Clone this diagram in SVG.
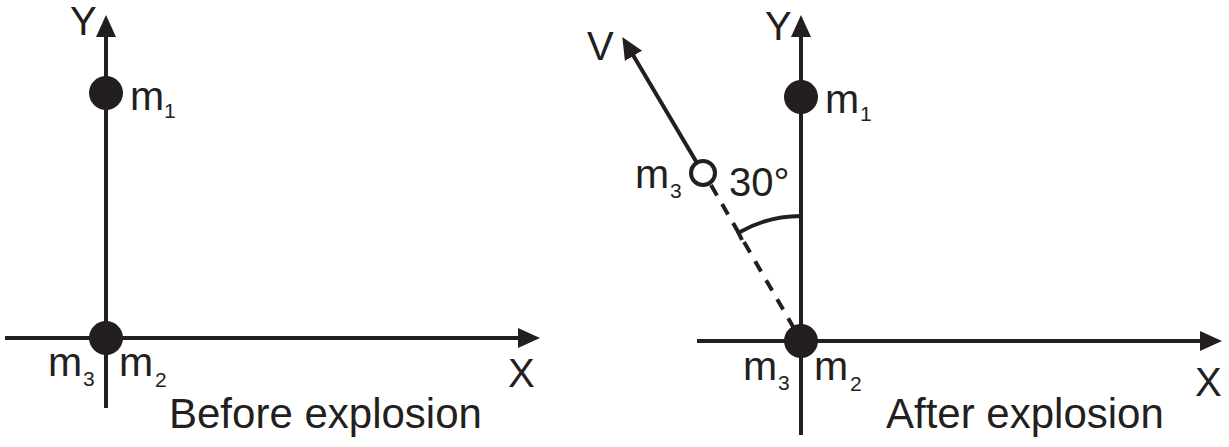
<svg xmlns="http://www.w3.org/2000/svg" width="1229" height="447" viewBox="0 0 1229 447">
<defs>
<marker id="arrow" markerUnits="userSpaceOnUse" markerWidth="24" markerHeight="22" viewBox="0 0 24 22" refX="1" refY="10" orient="auto">
<path d="M0,0 L22,10 L0,20 z" fill="#231f20"/>
</marker>
</defs>
<style>
.ax{stroke:#231f20;stroke-width:4;fill:none}
.dot{fill:#231f20}
.t{font-family:"Liberation Sans",Arial,sans-serif;fill:#231f20}
.big{font-size:40px}
.m{font-size:41px}
.sub{font-size:21px}
.cap{font-size:42px}
</style>
<rect width="1229" height="447" fill="#ffffff"/>
<g id="connectors">
<line class="ax" x1="106" y1="408" x2="106" y2="36" marker-end="url(#arrow)"/>
<line class="ax" x1="5" y1="338" x2="519" y2="338" marker-end="url(#arrow)"/>
<line class="ax" x1="801" y1="435" x2="801" y2="36" marker-end="url(#arrow)"/>
<line class="ax" x1="697" y1="341" x2="1201" y2="341" marker-end="url(#arrow)"/>
<line class="ax" x1="697" y1="163" x2="633" y2="55" marker-end="url(#arrow)"/>
<line class="ax" x1="711" y1="185" x2="795" y2="330" stroke-width="4.5" stroke-dasharray="12 10"/>
<path class="ax" d="M801,216 A125,125 0 0 0 738.5,232.7 L742,240" stroke-width="4.5"/>
</g>
<g id="before-m1"><circle class="dot" cx="106" cy="93" r="17"/><text class="t m" x="130" y="110">m</text><text class="t sub" x="164" y="118">1</text></g>
<g id="before-origin"><circle class="dot" cx="106" cy="338" r="17"/><text class="t m" x="48" y="376">m</text><text class="t sub" x="83" y="386">3</text><text class="t m" x="119" y="376">m</text><text class="t sub" x="155" y="387">2</text></g>
<g id="before-labels"><text class="t big" x="70" y="35">Y</text><text class="t big" x="508" y="387">X</text><text class="t cap" x="169" y="428">Before explosion</text></g>
<g id="after-m1"><circle class="dot" cx="801" cy="97" r="17"/><text class="t m" x="825" y="113">m</text><text class="t sub" x="860" y="121">1</text></g>
<g id="after-origin"><circle class="dot" cx="801" cy="341" r="17"/><text class="t m" x="743" y="380">m</text><text class="t sub" x="778" y="390">3</text><text class="t m" x="814" y="380">m</text><text class="t sub" x="850" y="391">2</text></g>
<g id="after-m3"><circle cx="703" cy="173" r="12" fill="#ffffff" stroke="#231f20" stroke-width="4"/><text class="t m" x="635" y="188">m</text><text class="t sub" x="670" y="198">3</text></g>
<g id="after-labels"><text class="t big" x="765" y="40">Y</text><text class="t big" x="587" y="60">V</text><text class="t big" x="1195" y="396">X</text><text class="t big" x="729" y="196">30°</text><text class="t cap" x="886" y="428">After explosion</text></g>
</svg>
